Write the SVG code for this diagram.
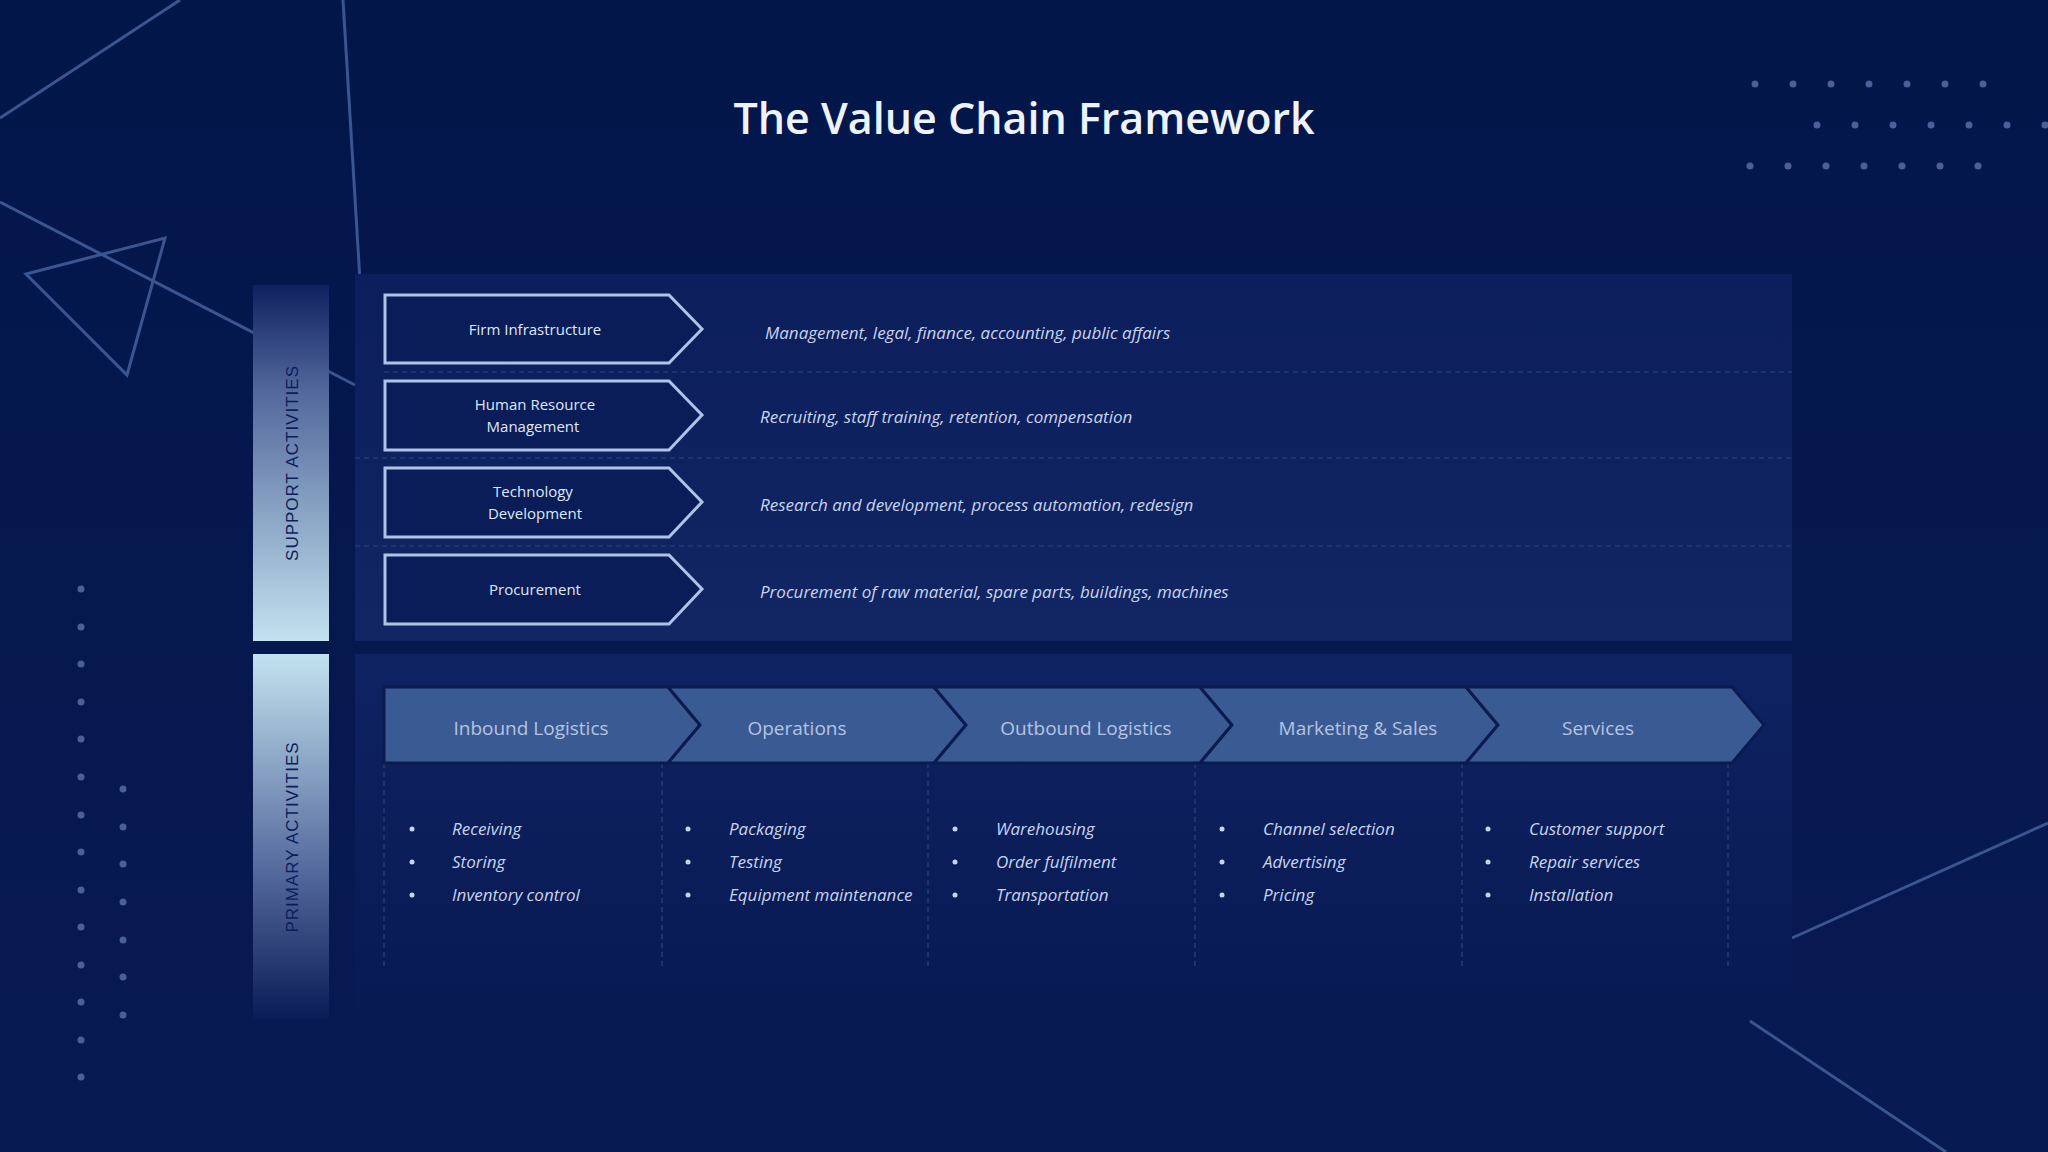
<svg xmlns="http://www.w3.org/2000/svg" width="2048" height="1152" viewBox="0 0 2048 1152">
<defs>
<linearGradient id="bg" x1="0" y1="0" x2="0" y2="1"><stop offset="0" stop-color="#03164a"/><stop offset="1" stop-color="#081a52"/></linearGradient>
<linearGradient id="sup" x1="0" y1="0" x2="0" y2="1"><stop offset="0" stop-color="#0f2160"/><stop offset="0.3" stop-color="#53689c"/><stop offset="1" stop-color="#c3e2ef"/></linearGradient>
<linearGradient id="pri" x1="0" y1="0" x2="0" y2="1"><stop offset="0" stop-color="#c3e2ef"/><stop offset="0.6" stop-color="#53689c"/><stop offset="1" stop-color="#0a1c55"/></linearGradient>
<linearGradient id="pan" x1="0" y1="0" x2="0" y2="1"><stop offset="0" stop-color="#0c1e5c"/><stop offset="1" stop-color="#122664"/></linearGradient>
<linearGradient id="pan2" x1="0" y1="0" x2="0" y2="1"><stop offset="0" stop-color="#0f2262"/><stop offset="1" stop-color="#081a52"/></linearGradient>
<style>
.deco{stroke:#3a5590;stroke-width:3;fill:none}
.dot{fill:#4a6098}
.sc{fill:#0b1d58;stroke:#aec3e6;stroke-width:3}
.st{font-family:"Open Sans","Liberation Sans",sans-serif;font-size:15px;fill:#dfe8f6;text-anchor:middle}
.desc{font-family:"Open Sans","Liberation Sans",sans-serif;font-size:17px;font-style:italic;fill:#c8d4ec}
.pc{fill:#3a5a94;stroke:#0b1b50;stroke-width:3}
.pt{font-family:"Open Sans","Liberation Sans",sans-serif;font-size:19px;fill:#b4c4e2;text-anchor:middle}
.it{font-family:"Open Sans","Liberation Sans",sans-serif;font-size:17px;font-style:italic;fill:#c8d4ec}
.bu{fill:#c8d4ec}
.sep{stroke:#1e3470;stroke-width:2;stroke-dasharray:5 4}
.side{font-family:"Liberation Sans",sans-serif;font-size:17px;fill:#0c1f5c;letter-spacing:1px;text-anchor:middle}
</style>
</defs>
<rect width="2048" height="1152" fill="url(#bg)"/>
<g id="decor">
<line class="deco" x1="0" y1="118" x2="180" y2="0"/>
<line class="deco" x1="343" y1="0" x2="360" y2="281"/>
<line class="deco" x1="0" y1="202" x2="355" y2="385"/>
<polygon class="deco" points="26,274 165,238 127,375"/>
<line class="deco" x1="1792" y1="938" x2="2048" y2="823"/>
<line class="deco" x1="1750" y1="1021" x2="1946" y2="1152"/>
<g class="dot">
<circle cx="1755" cy="84" r="3.5"/><circle cx="1793" cy="84" r="3.5"/><circle cx="1831" cy="84" r="3.5"/><circle cx="1869" cy="84" r="3.5"/><circle cx="1907" cy="84" r="3.5"/><circle cx="1945" cy="84" r="3.5"/><circle cx="1983" cy="84" r="3.5"/>
<circle cx="1817" cy="125" r="3.5"/><circle cx="1855" cy="125" r="3.5"/><circle cx="1893" cy="125" r="3.5"/><circle cx="1931" cy="125" r="3.5"/><circle cx="1969" cy="125" r="3.5"/><circle cx="2007" cy="125" r="3.5"/><circle cx="2045" cy="125" r="3.5"/>
<circle cx="1750" cy="166" r="3.5"/><circle cx="1788" cy="166" r="3.5"/><circle cx="1826" cy="166" r="3.5"/><circle cx="1864" cy="166" r="3.5"/><circle cx="1902" cy="166" r="3.5"/><circle cx="1940" cy="166" r="3.5"/><circle cx="1978" cy="166" r="3.5"/>
<circle cx="81" cy="589" r="3.5"/><circle cx="81" cy="627" r="3.5"/><circle cx="81" cy="664" r="3.5"/><circle cx="81" cy="702" r="3.5"/><circle cx="81" cy="739" r="3.5"/><circle cx="81" cy="777" r="3.5"/><circle cx="81" cy="815" r="3.5"/><circle cx="81" cy="852" r="3.5"/><circle cx="81" cy="890" r="3.5"/><circle cx="81" cy="927" r="3.5"/><circle cx="81" cy="965" r="3.5"/><circle cx="81" cy="1002" r="3.5"/><circle cx="81" cy="1040" r="3.5"/><circle cx="81" cy="1077" r="3.5"/>
<circle cx="123" cy="789" r="3.5"/><circle cx="123" cy="827" r="3.5"/><circle cx="123" cy="864" r="3.5"/><circle cx="123" cy="902" r="3.5"/><circle cx="123" cy="940" r="3.5"/><circle cx="123" cy="977" r="3.5"/><circle cx="123" cy="1015" r="3.5"/>
</g>
</g>
<text x="1024" y="134" text-anchor="middle" font-family="'Open Sans','Liberation Sans',sans-serif" font-size="43" font-weight="600" fill="#eef3fb">The Value Chain Framework</text>
<rect x="355" y="274" width="1437" height="367" fill="url(#pan)"/>
<rect x="355" y="654" width="1437" height="365" fill="url(#pan2)"/>
<g id="support-bar"><rect x="253" y="285" width="76" height="356" fill="url(#sup)"/>
<text class="side" transform="translate(298,463) rotate(-90)">SUPPORT  ACTIVITIES</text></g>
<g id="primary-bar"><rect x="253" y="654" width="76" height="365" fill="url(#pri)"/>
<text class="side" transform="translate(298,837) rotate(-90)">PRIMARY  ACTIVITIES</text></g>
<g id="separators">
<line class="sep" x1="384" y1="372" x2="1792" y2="372"/>
<line class="sep" x1="355" y1="458" x2="1792" y2="458"/>
<line class="sep" x1="355" y1="546" x2="1792" y2="546"/>
<line class="sep" x1="384" y1="763" x2="384" y2="970"/>
<line class="sep" x1="662" y1="763" x2="662" y2="970"/>
<line class="sep" x1="928" y1="763" x2="928" y2="970"/>
<line class="sep" x1="1195" y1="763" x2="1195" y2="970"/>
<line class="sep" x1="1462" y1="763" x2="1462" y2="970"/>
<line class="sep" x1="1728" y1="763" x2="1728" y2="970"/>
</g>
<g id="firm"><polygon class="sc" points="385,295 669,295 702,329 669,363 385,363"/><text class="st" x="535" y="335">Firm Infrastructure</text><text class="desc" x="765" y="339">Management, legal, finance, accounting, public affairs</text></g>
<g id="hrm"><polygon class="sc" points="385,381 669,381 702,415 669,450 385,450"/><text class="st" x="535" y="410">Human Resource</text><text class="st" x="533" y="432">Management</text><text class="desc" x="760" y="423">Recruiting, staff training, retention, compensation</text></g>
<g id="tech"><polygon class="sc" points="385,468 669,468 702,502 669,537 385,537"/><text class="st" x="533" y="497">Technology</text><text class="st" x="535" y="519">Development</text><text class="desc" x="760" y="511">Research and development, process automation, redesign</text></g>
<g id="proc"><polygon class="sc" points="385,555 669,555 702,589 669,624 385,624"/><text class="st" x="535" y="595">Procurement</text><text class="desc" x="760" y="598">Procurement of raw material, spare parts, buildings, machines</text></g>
<g id="inbound"><polygon class="pc" points="384,687 668,687 700,725 668,763 384,763"/><text class="pt" x="531" y="735">Inbound Logistics</text>
<circle class="bu" cx="412" cy="829" r="2.5"/><circle class="bu" cx="412" cy="862" r="2.5"/><circle class="bu" cx="412" cy="895" r="2.5"/>
<text class="it" x="452" y="835">Receiving</text><text class="it" x="452" y="868">Storing</text><text class="it" x="452" y="901">Inventory control</text></g>
<g id="operations"><polygon class="pc" points="668,687 934,687 966,725 934,763 668,763 700,725"/><text class="pt" x="797" y="735">Operations</text>
<circle class="bu" cx="688" cy="829" r="2.5"/><circle class="bu" cx="688" cy="862" r="2.5"/><circle class="bu" cx="688" cy="895" r="2.5"/>
<text class="it" x="729" y="835">Packaging</text><text class="it" x="729" y="868">Testing</text><text class="it" x="729" y="901">Equipment maintenance</text></g>
<g id="outbound"><polygon class="pc" points="934,687 1200,687 1232,725 1200,763 934,763 966,725"/><text class="pt" x="1086" y="735">Outbound Logistics</text>
<circle class="bu" cx="955" cy="829" r="2.5"/><circle class="bu" cx="955" cy="862" r="2.5"/><circle class="bu" cx="955" cy="895" r="2.5"/>
<text class="it" x="996" y="835">Warehousing</text><text class="it" x="996" y="868">Order fulfilment</text><text class="it" x="996" y="901">Transportation</text></g>
<g id="marketing"><polygon class="pc" points="1200,687 1466,687 1498,725 1466,763 1200,763 1232,725"/><text class="pt" x="1358" y="735">Marketing &amp; Sales</text>
<circle class="bu" cx="1222" cy="829" r="2.5"/><circle class="bu" cx="1222" cy="862" r="2.5"/><circle class="bu" cx="1222" cy="895" r="2.5"/>
<text class="it" x="1263" y="835">Channel selection</text><text class="it" x="1263" y="868">Advertising</text><text class="it" x="1263" y="901">Pricing</text></g>
<g id="services"><polygon class="pc" points="1466,687 1732,687 1764,725 1732,763 1466,763 1498,725"/><text class="pt" x="1598" y="735">Services</text>
<circle class="bu" cx="1488" cy="829" r="2.5"/><circle class="bu" cx="1488" cy="862" r="2.5"/><circle class="bu" cx="1488" cy="895" r="2.5"/>
<text class="it" x="1529" y="835">Customer support</text><text class="it" x="1529" y="868">Repair services</text><text class="it" x="1529" y="901">Installation</text></g>
</svg>
